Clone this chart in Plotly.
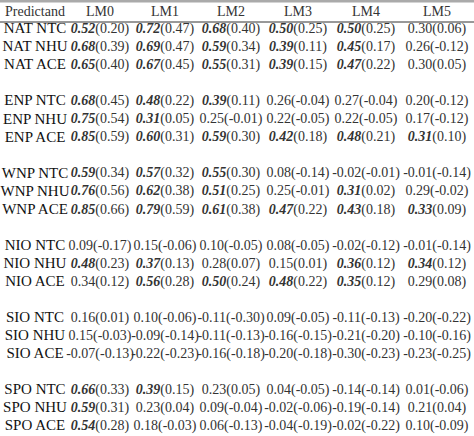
import plotly.graph_objects as go

columns = ["Predictand", "LM0", "LM1", "LM2", "LM3", "LM4", "LM5"]
predictands = ["NAT NTC","NAT NHU","NAT ACE","ENP NTC","ENP NHU","ENP ACE",
               "WNP NTC","WNP NHU","WNP ACE","NIO NTC","NIO NHU","NIO ACE",
               "SIO NTC","SIO NHU","SIO ACE","SPO NTC","SPO NHU","SPO ACE"]
r_vals = [
 [0.52,0.72,0.68,0.50,0.50,0.30],
 [0.68,0.69,0.59,0.39,0.45,0.26],
 [0.65,0.67,0.55,0.39,0.47,0.30],
 [0.68,0.48,0.39,0.26,0.27,0.20],
 [0.75,0.31,0.25,0.22,0.22,0.17],
 [0.85,0.60,0.59,0.42,0.48,0.31],
 [0.59,0.57,0.55,0.08,-0.02,-0.01],
 [0.76,0.62,0.51,0.25,0.31,0.29],
 [0.85,0.79,0.61,0.47,0.43,0.33],
 [0.09,0.15,0.10,0.08,-0.02,-0.01],
 [0.48,0.37,0.28,0.15,0.36,0.34],
 [0.34,0.56,0.50,0.48,0.35,0.29],
 [0.16,0.10,-0.11,0.09,-0.11,-0.20],
 [0.15,-0.09,-0.11,-0.16,-0.21,-0.10],
 [-0.07,-0.22,-0.16,-0.20,-0.30,-0.23],
 [0.66,0.39,0.23,0.04,-0.14,0.01],
 [0.59,0.23,0.09,-0.02,-0.19,0.21],
 [0.54,0.18,0.06,-0.04,-0.02,0.10],
]
skill_vals = [
 [0.20,0.47,0.40,0.25,0.25,0.06],
 [0.39,0.47,0.34,0.11,0.17,-0.12],
 [0.40,0.45,0.31,0.15,0.22,0.05],
 [0.45,0.22,0.11,-0.04,-0.04,-0.12],
 [0.54,0.05,-0.01,-0.05,-0.05,-0.12],
 [0.59,0.31,0.30,0.18,0.21,0.10],
 [0.34,0.32,0.30,-0.14,-0.01,-0.14],
 [0.56,0.38,0.25,-0.01,0.02,-0.02],
 [0.66,0.59,0.38,0.22,0.18,0.09],
 [-0.17,-0.06,-0.05,-0.05,-0.12,-0.14],
 [0.23,0.13,0.07,0.01,0.12,0.12],
 [0.12,0.28,0.24,0.22,0.12,0.08],
 [0.01,-0.06,-0.30,-0.05,-0.13,-0.22],
 [-0.03,-0.14,-0.13,-0.15,-0.20,-0.16],
 [-0.13,-0.23,-0.18,-0.18,-0.23,-0.25],
 [0.33,0.15,0.05,-0.05,-0.14,-0.06],
 [0.31,0.04,-0.04,-0.06,-0.14,0.04],
 [0.28,-0.03,-0.13,-0.19,-0.22,-0.09],
]
significant = [
 [1,1,1,1,1,0],[1,1,1,1,1,0],[1,1,1,1,1,0],
 [1,1,1,0,0,0],[1,1,0,0,0,0],[1,1,1,1,1,1],
 [1,1,1,0,0,0],[1,1,1,0,1,0],[1,1,1,1,1,1],
 [0,0,0,0,0,0],[1,1,0,0,1,1],[0,1,1,1,1,0],
 [0,0,0,0,0,0],[0,0,0,0,0,0],[0,0,0,0,0,0],
 [1,1,0,0,0,0],[1,0,0,0,0,0],[1,0,0,0,0,0],
]

col_x = [35, 100, 165, 231, 298, 366, 437]
def row_y(i):
    g = i // 3
    return 29.5 + (i + g) * 18.05

fig = go.Figure()
xs, ys, ts = [], [], []
for j, c in enumerate(columns):
    xs.append(col_x[j]); ys.append(12); ts.append(c)
lx, ly, lt = [], [], []
for i, p in enumerate(predictands):
    lx.append(col_x[0]); ly.append(row_y(i)); lt.append(p)
    for j in range(6):
        r = f"{r_vals[i][j]:.2f}"
        s = f"({skill_vals[i][j]:.2f})"
        if significant[i][j]:
            t = f"<b><i>{r}</i></b>{s}"
        else:
            t = r + s
        xs.append(col_x[j+1]); ys.append(row_y(i)); ts.append(t)

fig.add_trace(go.Scatter(x=lx, y=ly, text=lt, mode="text",
    textfont=dict(family="Liberation Serif", size=15, color="#111"), hoverinfo="skip"))
fig.add_trace(go.Scatter(x=xs, y=ys, text=ts, mode="text",
    textfont=dict(family="Liberation Serif", size=14, color="#333"), hoverinfo="skip"))

fig.add_shape(type="line", x0=0, x1=474, y0=1, y1=1, line=dict(color="#aaa", width=3))
fig.add_shape(type="line", x0=0, x1=474, y0=22, y1=22, line=dict(color="#333", width=1))

fig.update_layout(width=474, height=436, margin=dict(l=0, r=0, t=0, b=0),
    paper_bgcolor="white", plot_bgcolor="white", showlegend=False,
    xaxis=dict(range=[0, 474], visible=False, fixedrange=True),
    yaxis=dict(range=[436, 0], visible=False, fixedrange=True))
fig.write_html("out.html", config={"displayModeBar": False},
               post_script="document.body.style.margin='0';document.body.style.overflow='hidden';")
